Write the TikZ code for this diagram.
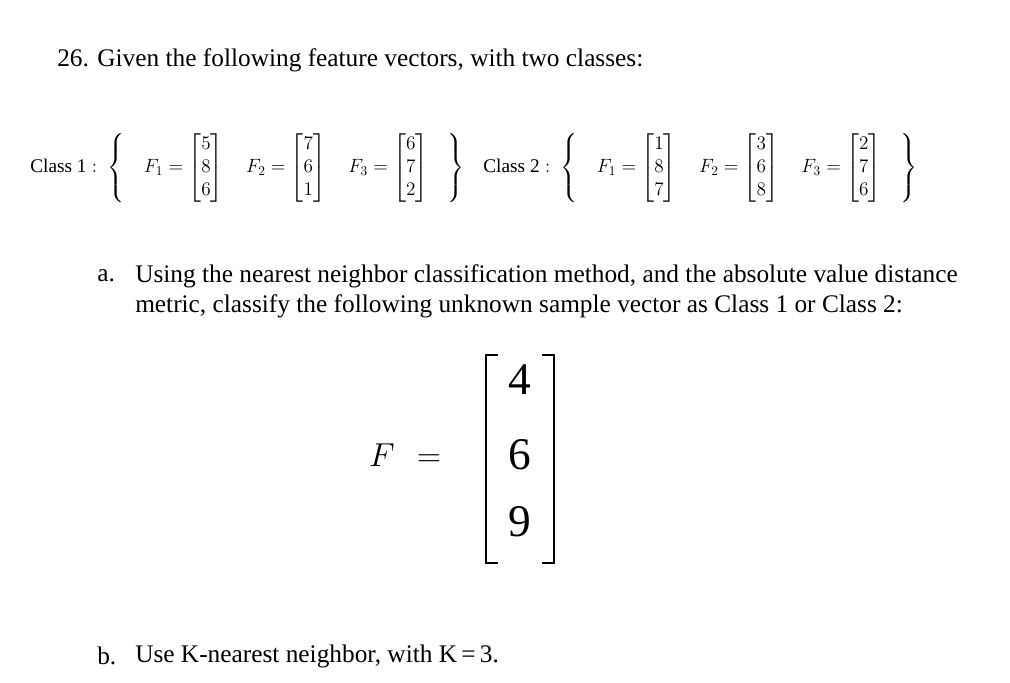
\documentclass[tikz,border=0pt]{standalone}
\usepackage{amsmath}
\usepackage{fontspec}
\setmainfont{Liberation Serif}
\begin{document}
\begin{tikzpicture}[x=0.75pt,y=-0.75pt,
  txt/.style={anchor=west,inner sep=0pt,font=\fontsize{19}{22}\selectfont},
  mth/.style={anchor=west,inner sep=0pt,font=\fontsize{14.5}{17}\selectfont},
  br/.style={line width=2pt}]
\useasboundingbox (0,0) rectangle (1010,682);
\node[txt] (t) at (57,60) {26. Given the following feature vectors, with two classes:};
\node[mth] (c1) at (30,168) {$\text{Class 1}:\ \left\{\quad F_1=\begin{bmatrix}5\\8\\6\end{bmatrix}\quad F_2=\begin{bmatrix}7\\6\\1\end{bmatrix}\quad F_3=\begin{bmatrix}6\\7\\2\end{bmatrix}\quad\right\}$};
\node[mth] (c2) at (483,168) {$\text{Class 2}:\ \left\{\quad F_1=\begin{bmatrix}1\\8\\7\end{bmatrix}\quad F_2=\begin{bmatrix}3\\6\\8\end{bmatrix}\quad F_3=\begin{bmatrix}2\\7\\6\end{bmatrix}\quad\right\}$};
\node[txt] (a) at (97,276) {a.};
\node[txt] (a1) at (135,276) {Using the nearest neighbor classification method, and the absolute value distance};
\node[txt] (a2) at (135,306) {metric, classify the following unknown sample vector as Class 1 or Class 2:};
\node[inner sep=0pt,font=\fontsize{40}{42}\selectfont] (F) at (405,455) {$F\ =$};
\node[inner sep=0pt,font=\fontsize{34}{36}\selectfont] (n4) at (520,380) {4};
\node[inner sep=0pt,font=\fontsize{34}{36}\selectfont] (n6) at (520,455) {6};
\node[inner sep=0pt,font=\fontsize{34}{36}\selectfont] (n9) at (520,522) {9};
\draw[br] (498,355) -- (486,355) -- (486,563) -- (498,563);
\draw[br] (542,355) -- (554,355) -- (554,563) -- (542,563);
\node[txt] (b) at (97,656) {b.};
\node[txt] (b1) at (135,656) {Use K-nearest neighbor, with K\,=\,3.};
\end{tikzpicture}
\end{document}
